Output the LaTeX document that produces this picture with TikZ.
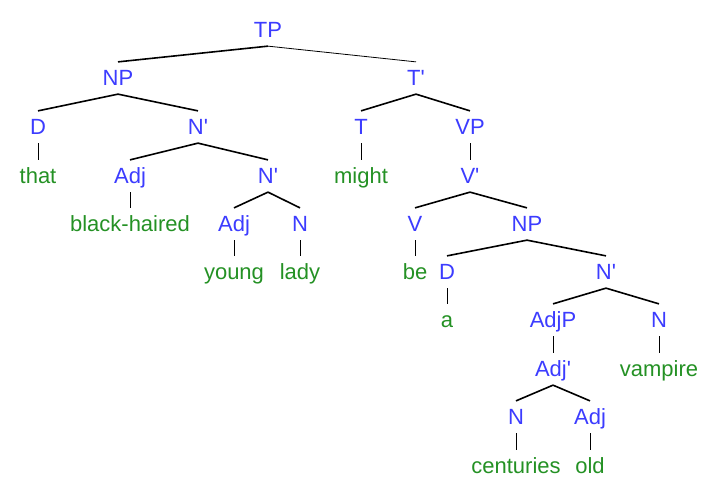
\documentclass[tikz,border=0pt]{standalone}
\usepackage{fontspec}
\setmainfont{Liberation Sans}
\definecolor{catblue}{RGB}{60,60,255}
\definecolor{wordgreen}{RGB}{36,145,36}
\newcommand{\pr}{\textquotesingle}

\begin{document}
\begin{tikzpicture}[x=0.75pt,y=-0.75pt,
  cat/.style={text=catblue,font=\fontsize{16.5}{18}\selectfont,inner xsep=0pt,inner ysep=6pt,text height=11.8pt,text depth=0pt},
  word/.style={cat,text=wordgreen},
  branch/.style={black,line width=1.2pt}]
\useasboundingbox (0,0) rectangle (720,494);
% categories and words
\node[cat] (tp) at (268,30) {TP};
\node[cat] (np) at (118,78) {NP};
\node[cat] (tbar) at (416,78) {T\pr};
\node[cat] (d1) at (38,127) {D};
\node[cat] (nbar1) at (198,127) {N\pr};
\node[cat] (t) at (361,127) {T};
\node[cat] (vp) at (470,127) {VP};
\node[word] (that) at (38,176) {that};
\node[cat] (adj1) at (130,176) {Adj};
\node[cat] (nbar2) at (268,176) {N\pr};
\node[word] (might) at (361,176) {might};
\node[cat] (vbar) at (470,176) {V\pr};
\node[word] (blackhaired) at (130,224) {black-haired};
\node[cat] (adj2) at (234,224) {Adj};
\node[cat] (n1) at (300,224) {N};
\node[cat] (v) at (415,224) {V};
\node[cat] (np2) at (527,224) {NP};
\node[word] (young) at (234,272) {young};
\node[word] (lady) at (300,272) {lady};
\node[word] (be) at (415,272) {be};
\node[cat] (d2) at (447,272) {D};
\node[cat] (nbar3) at (606,272) {N\pr};
\node[word] (a) at (447,320) {a};
\node[cat] (adjp) at (553,320) {AdjP};
\node[cat] (n2) at (659,320) {N};
\node[cat] (adjbar) at (553,369) {Adj\pr};
\node[word] (vampire) at (659,369) {vampire};
\node[cat] (n3) at (516,417) {N};
\node[cat] (adj3) at (590,417) {Adj};
\node[word] (centuries) at (516,466) {centuries};
\node[word] (old) at (590,466) {old};
% branches
\draw[branch] (tp.south) -- (np.north);
\draw[black,line width=0.6pt] (tp.south) -- (tbar.north);
\draw[branch] (np.south) -- (d1.north);
\draw[branch] (np.south) -- (nbar1.north);
\draw[branch] (nbar1.south) -- (adj1.north);
\draw[branch] (nbar1.south) -- (nbar2.north);
\draw[branch] (nbar2.south) -- (adj2.north);
\draw[branch] (nbar2.south) -- (n1.north);
\draw[branch] (tbar.south) -- (t.north);
\draw[branch] (tbar.south) -- (vp.north);
\draw[branch] (vbar.south) -- (v.north);
\draw[branch] (vbar.south) -- (np2.north);
\draw[branch] (np2.south) -- (d2.north);
\draw[branch] (np2.south) -- (nbar3.north);
\draw[branch] (nbar3.south) -- (adjp.north);
\draw[branch] (nbar3.south) -- (n2.north);
\draw[branch] (adjbar.south) -- (n3.north);
\draw[branch] (adjbar.south) -- (adj3.north);
% unary lines
\foreach \up/\down in {d1/that,adj1/blackhaired,adj2/young,n1/lady,t/might,vp/vbar,v/be,d2/a,adjp/adjbar,n2/vampire,n3/centuries,adj3/old}
  \draw[black,line width=0.6pt] (\up.south) -- (\down.north);
\end{tikzpicture}
\end{document}
